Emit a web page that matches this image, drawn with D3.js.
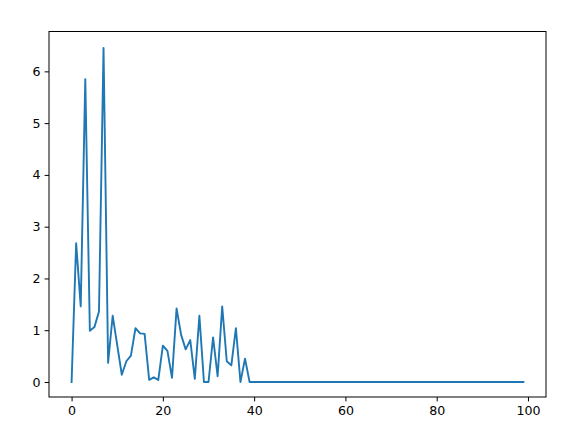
<!DOCTYPE html>
<html>
<head>
<meta charset="utf-8">
<script src="https://cdn.jsdelivr.net/npm/d3@7"></script>
<style>
  body { margin: 0; background: #fff; }
  .tick text { font-family: "DejaVu Sans", sans-serif; font-size: 12.6px; fill: #000; }
</style>
</head>
<body>
<svg width="582" height="441"></svg>
<script>
// values, indices 0..39; everything after is zero
const firstValues = [
  0.0, 2.68, 1.46, 5.85, 0.99, 1.06, 1.36, 6.45, 0.37, 1.28,
  0.71, 0.14, 0.40, 0.51, 1.04, 0.94, 0.93, 0.04, 0.09, 0.04,
  0.70, 0.60, 0.08, 1.42, 0.91, 0.63, 0.81, 0.06, 1.28, 0.0,
  0.0, 0.86, 0.11, 1.46, 0.40, 0.32, 1.04, 0.0, 0.45, 0.0
];
const zeroTail = new Array(60).fill(0);
const values = firstValues.concat(zeroTail);
const xTicks = [0, 20, 40, 60, 80, 100];
const yTicks = [0, 1, 2, 3, 4, 5, 6];

const margin = {top: 31.5, right: 36, bottom: 44, left: 49},
      width = 582 - margin.left - margin.right,
      height = 441 - margin.top - margin.bottom;

const svg = d3.select("svg")
  .append("g")
    .attr("transform", `translate(${margin.left},${margin.top})`);

const x = d3.scaleLinear()
    .domain([-4.95, 103.95])
    .range([0, width]);

const y = d3.scaleLinear()
    .domain([-0.29, 6.77])
    .range([height, 0]);

// the line
const line = d3.line()
    .x((d, i) => x(i))
    .y(d => y(d));

svg.append("path")
    .datum(values)
    .attr("fill", "none")
    .attr("stroke", "#1f77b4")
    .attr("stroke-width", 1.9)
    .attr("stroke-linejoin", "round")
    .attr("stroke-linecap", "square")
    .attr("d", line);

// axes
const xAxis = svg.append("g")
    .attr("transform", `translate(0,${height})`)
    .call(d3.axisBottom(x).tickValues(xTicks).tickFormat(d3.format("d"))
      .tickSize(4.4).tickPadding(4.2).tickSizeOuter(0));

const yAxis = svg.append("g")
    .call(d3.axisLeft(y).tickValues(yTicks).tickFormat(d3.format("d"))
      .tickSize(4.4).tickPadding(4.2).tickSizeOuter(0));

[xAxis, yAxis].forEach(g => {
  g.select(".domain").remove();
  g.selectAll(".tick line").attr("stroke", "#000").attr("stroke-width", 1);
});

// frame round the plot
svg.append("rect")
    .attr("x", 0)
    .attr("y", 0)
    .attr("width", width)
    .attr("height", height)
    .attr("fill", "none")
    .attr("stroke", "#000")
    .attr("stroke-width", 1);
</script>
</body>
</html>
